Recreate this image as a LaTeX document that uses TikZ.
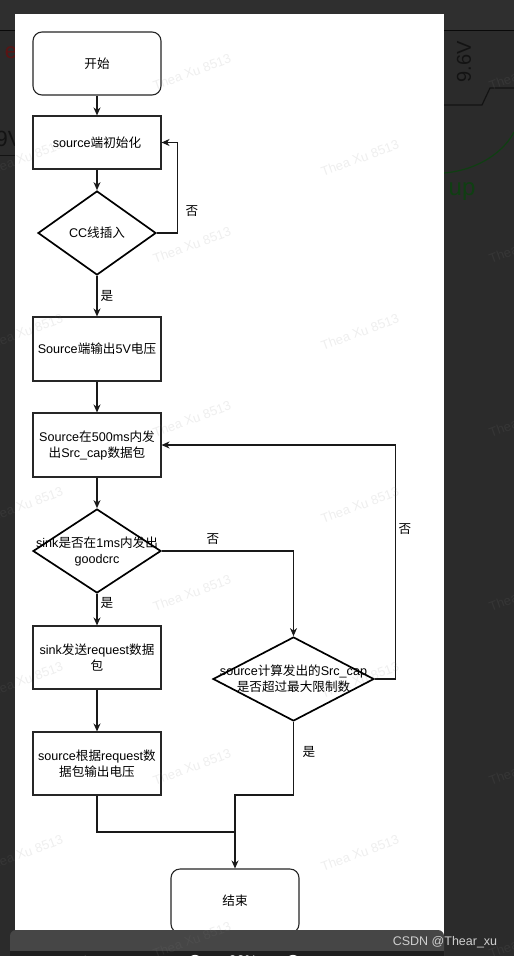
\documentclass[tikz,border=0pt]{standalone}
\usepackage{fontspec}
\setmainfont{Liberation Sans}
\newfontfamily\cjkfont{Noto Sans CJK SC}
\usetikzlibrary{arrows.meta,shapes.geometric}
\newcommand\zh[1]{{\cjkfont #1}}
\definecolor{bgdark}{HTML}{2B2B2B}
\definecolor{bgtop}{HTML}{2F2F2F}
\definecolor{toolbar}{HTML}{464646}
\definecolor{toolbardark}{HTML}{1E1E1E}
\definecolor{dimgreen}{HTML}{0F3F12}
\definecolor{dimred}{HTML}{5A1414}
\definecolor{dimblack}{HTML}{131313}
\definecolor{csdngray}{HTML}{CFCFCF}
\tikzset{
 box/.style={draw=black!85, line width=1.1pt, fill=white, minimum width=128pt, align=center, inner sep=0pt, font=\fontsize{12.6}{16}\selectfont},
 term/.style={box, rounded corners=9pt},
 dia/.style={draw=black, line width=1.7pt, shape=diamond, inner sep=0pt, fill=white},
 txt/.style={align=center, font=\fontsize{12.6}{16}\selectfont, inner sep=0pt},
 arr/.style={draw=black!90, line width=1.1pt, -{Stealth[length=8pt,width=7pt,inset=2.5pt]}},
 ln/.style={draw=black!90, line width=1.1pt},
 wm/.style={rotate=20, text=gray, opacity=0.13, font=\fontsize{13}{13}\selectfont},
 side/.style={inner sep=0pt}
}
\begin{document}
\begin{tikzpicture}[x=1pt,y=-1pt]
\useasboundingbox (0,0) rectangle (514,956);
\clip (0,0) rectangle (514,956);
% screen background
\fill[bgdark] (0,0) rectangle (514,956);
\fill[bgtop] (0,0) rectangle (514,30);
\draw[black!80!bgdark, line width=0.6pt] (0,30) -- (514,30);
% fragments of the page behind
\node[side, rotate=90, font=\fontsize{20}{20}\selectfont, text=dimblack] (v96) at (464,62) {9.6V};
\draw[dimblack, line width=1.2pt] (444,105) -- (482,105) -- (490,88) -- (514,88);
\draw[dimgreen, line width=1.2pt] (444,173) .. controls (480,170) and (505,150) .. (514,132);
\node[side, font=\fontsize{24}{24}\selectfont, text=dimgreen] (up) at (462,192) {up};
\node[side, font=\fontsize{22}{22}\selectfont, text=dimred] (e) at (11,53) {e};
\node[side, font=\fontsize{22}{22}\selectfont, text=dimblack] (v9) at (9,139) {9V};
\draw[dimblack, line width=1pt] (0,155) -- (15,155);
% white page
\fill[white] (15,14) rectangle (444,956);

% nodes
\node[term, minimum height=63pt] (start) at (97,63.5) {\zh{开始}};
\node[box, minimum height=53pt] (init) at (97,142.5) {source\zh{端初始化}};
\node[dia, minimum width=118pt, minimum height=84pt] (d1) at (97,233) {};
\node[txt] (d1t) at (d1) {CC\zh{线插入}};
\node[box, minimum height=64pt] (out) at (97,349) {Source\zh{端输出}5V\zh{电压}};
\node[box, minimum height=64pt] (src) at (97,445) {Source\zh{在}500ms\zh{内发}\\\zh{出}Src\_cap\zh{数据包}};
\node[dia, minimum width=128pt, minimum height=84pt] (d2) at (97,551) {};
\node[txt] (d2t) at (d2) {sink\zh{是否在}1ms\zh{内发出}\\goodcrc};
\node[box, minimum height=63pt] (req) at (97,657.5) {sink\zh{发送}request\zh{数据}\\\zh{包}};
\node[box, minimum height=63pt] (vol) at (97,763.5) {source\zh{根据}request\zh{数}\\\zh{据包输出电压}};
\node[dia, minimum width=161pt, minimum height=84pt] (d3) at (293.5,679) {};
\node[txt] (d3t) at (d3) {source\zh{计算发出的}Src\_cap\\\zh{是否超过最大限制数}};
\node[term, minimum height=64pt] (end) at (235,901) {\zh{结束}};

\coordinate (m1) at (235,795);
\coordinate (m2) at (235,832);

% connectors
\draw[arr] (start) -- (init);
\draw[arr] (init) -- (d1);
\draw[arr] (d1.east) -- ++(21,0) |- (init.east);
\draw[arr] (d1) -- (out);
\draw[arr] (out) -- (src);
\draw[arr] (src) -- (d2);
\draw[arr] (d2.east) -| (d3.north);
\draw[arr] (d2) -- (req);
\draw[arr] (req) -- (vol);
\draw[arr] (d3.east) -- ++(21,0) |- (src.east);
\draw[ln] (d3.south) |- (m1) -- (m2);
\draw[arr] (vol.south) |- (m2) -- (end.north);

% branch labels
\node[txt] (n1) at (192,211) {\zh{否}};
\node[txt] (y1) at (107,296) {\zh{是}};
\node[txt] (n2) at (213,539) {\zh{否}};
\node[txt] (y2) at (107,603) {\zh{是}};
\node[txt] (n3) at (405,529) {\zh{否}};
\node[txt] (y3) at (309,752) {\zh{是}};

% viewer toolbar
\fill[toolbar, rounded corners=6pt] (10,930) rectangle (444,975);
\fill[toolbardark] (10,951) rectangle (444,975);
\node[side, font=\fontsize{14}{14}\selectfont, text=white] (pg) at (84,961) {7/7};
\node[side, font=\fontsize{14}{14}\selectfont, text=white] (zm) at (243,961) {90\%};
\draw[white, line width=1.3pt] (195,962) circle (6.5);
\draw[white, line width=1.3pt] (293,962) circle (6.5);
\node[side, font=\fontsize{12.5}{13}\selectfont, text=csdngray] (csdn) at (445,942) {CSDN @Thear\_xu};

% watermarks
\foreach \x in {192,528} \foreach \y in {72,245,419,593,767,940}
  \node[wm] (wa\x\y) at (\x,\y) {Thea Xu 8513};
\foreach \x in {24,360} \foreach \y in {158,332,505,680,853}
  \node[wm] (wb\x\y) at (\x,\y) {Thea Xu 8513};
\end{tikzpicture}
\end{document}
